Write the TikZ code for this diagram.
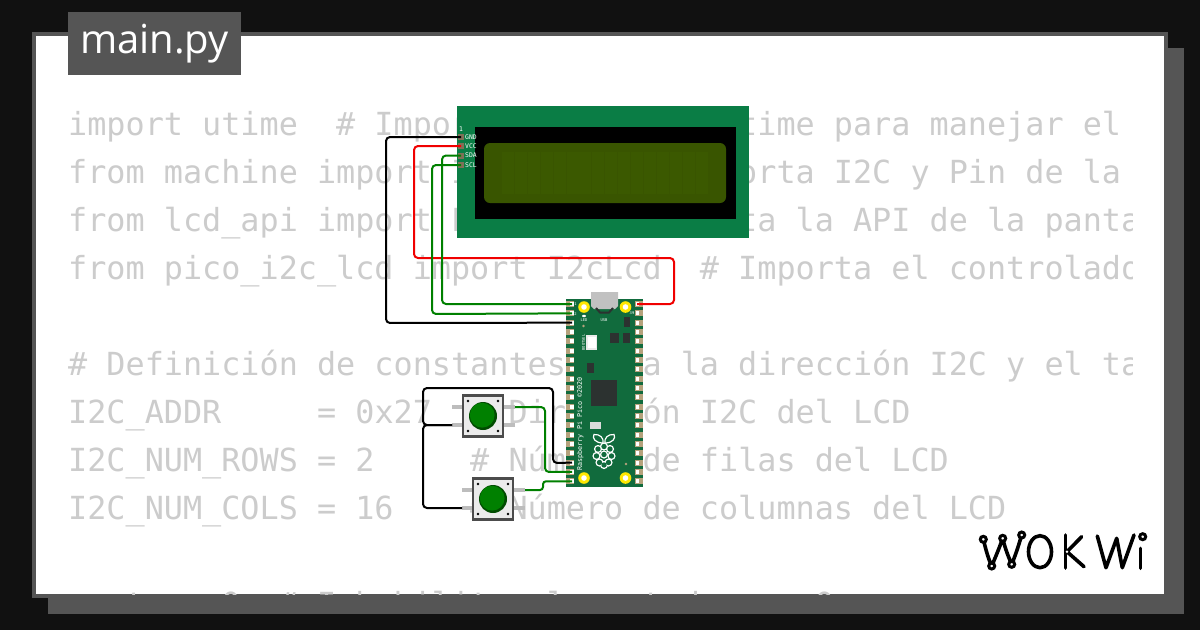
\documentclass[tikz,border=0pt]{standalone}
\usepackage{fontspec}
\usetikzlibrary{calc}
\setmonofont{DejaVu Sans Mono}
\newfontfamily\labelfont{Open Sans}
\definecolor{bgdark}{HTML}{111111}
\definecolor{framegray}{HTML}{555555}
\definecolor{codegray}{HTML}{CCCCCC}
\definecolor{lcdgreen}{HTML}{0A7D45}
\definecolor{lcdolive}{HTML}{395500}
\definecolor{cellolive}{HTML}{3B5900}
\definecolor{picogreen}{HTML}{116B3D}
\definecolor{padtan}{HTML}{B5A27C}
\definecolor{chipdark}{HTML}{2C3230}
\definecolor{wirered}{HTML}{F00000}
\definecolor{wiregreen}{HTML}{008000}

\begin{document}
\begin{tikzpicture}[x=1pt,y=-1pt,
	box/.style={inner sep=0pt,outer sep=0pt,minimum width=#1},
	codeline/.style={font=\ttfamily\fontsize{31.8}{32}\selectfont,text=codegray,anchor=base west,inner sep=0pt},
	tiny/.style={font=\ttfamily\fontsize{#1}{#1}\selectfont,text=white,inner sep=0pt},
	wire/.style={line width=2pt,rounded corners=4pt},
	logo/.style={line width=3.6pt,line cap=round,line join=round,draw=black,fill=none},
	hole/.style={line width=3pt,draw=black,fill=white}]
	
	\useasboundingbox (0,0) rectangle (1200,630);
	\fill[bgdark] (0,0) rectangle (1200,630);
	\fill[framegray] (48,48) rectangle (1184,614);
	\fill[framegray] (32,32) rectangle (1168,598);
	\fill[white] (36,36) rectangle (1164,594);
	
	\begin{scope}
	\clip (36,36) rectangle (1132,594);
	\foreach \yy/\txt in {
		135/{import~utime~~\#~Importa~el~módulo~utime~para~manejar~el},
		183/{from~machine~import~I2C,~Pin~~\#~Importa~I2C~y~Pin~de~la},
		231/{from~lcd\_api~import~LcdApi~~\#~Importa~la~API~de~la~panta},
		279/{from~pico\_i2c\_lcd~import~I2cLcd~~\#~Importa~el~controlado},
		375/{\#~Definición~de~constantes~para~la~dirección~I2C~y~el~ta},
		423/{I2C\_ADDR~~~~~=~0x27~~\#~Dirección~I2C~del~LCD},
		471/{I2C\_NUM\_ROWS~=~2~~~~~\#~Número~de~filas~del~LCD},
		519/{I2C\_NUM\_COLS~=~16~~~~\#~Número~de~columnas~del~LCD},
		615/{cont~~=~0~~\#~Inhabilita~el~contador~en~0}}
		\node[codeline] (code\yy) at (68,\yy) {\txt};
	\end{scope}
	
	\node[fill=framegray,text=white,font=\labelfont\fontsize{40}{40}\selectfont,inner sep=0pt,
		minimum width=173pt,minimum height=63pt] (title) at (154.5,43.5) {main.py};
	
	% display
	\node[box=292pt,minimum height=132pt,fill=lcdgreen] (lcd) at (603,172) {};
	\node[box=261pt,minimum height=92pt,fill=black] (lcdwin) at (605.5,173) {};
	\node[box=242pt,minimum height=60pt,fill=lcdolive,rounded corners=6pt] (lcdglass) at (605,173) {};
	\foreach \c in {0,...,15}
		\fill[cellolive] ({502+12.9*\c},152) rectangle ++(12,42);
	\node[tiny=6.4] (lcdone) at (461,129) {1};
	\foreach \pinname/\yy/\txt in {lcdgnd/137/GND,lcdvcc/146/VCC,lcdsda/155.5/SDA,lcdscl/165/SCL} {
		\fill[padtan!70!black] (457.5,\yy-3) rectangle (463.5,\yy+3);
		\coordinate (\pinname) at (461,\yy);
		\node[tiny=6.4,anchor=west] (\pinname label) at (465,\yy) {\txt};
	}
	
	% pico board
	\node[box=77pt,minimum height=188pt,fill=picogreen] (pico) at (604.5,393) {};
	\foreach \i in {1,...,20} {
		\coordinate (picol\i) at (572,{304+9.33*(\i-1)});
		\coordinate (picor\i) at (637,{304+9.33*(\i-1)});
		\fill[padtan] ($(picol\i)+(-6,-3)$) rectangle ($(picol\i)+(2,3)$);
		\fill[white] ($(picol\i)+(-2,-2)$) rectangle ($(picol\i)+(1.5,2)$);
		\fill[padtan] ($(picor\i)+(-2,-3)$) rectangle ($(picor\i)+(6,3)$);
		\fill[white] ($(picor\i)+(-1.5,-2)$) rectangle ($(picor\i)+(2,2)$);
	}
	\fill[codegray!85!gray] (591,292) -- (618,292) -- (618,306) -- (615,309) -- (594,309) -- (591,306) -- cycle;
	\draw[chipdark,line width=2pt] (596,308) -- (600,312.5) -- (609,312.5) -- (613,308);
	\foreach \cx/\cy in {584/307,625.5/307,584/478,625.5/478} {
		\fill[yellow!90!orange] (\cx,\cy) circle (5.8pt);
		\fill[white] (\cx,\cy) circle (2.8pt);
	}
	\foreach \xa/\ya/\xb/\yb in {610/333/619/343,622.5/333/630/343,624/317/630/327,587/363/594/373,591/380/617/406}
		\fill[chipdark] (\xa,\ya) rectangle (\xb,\yb);
	\fill[codegray!40] (586,335) rectangle (597,349.5);
	\fill[white] (587.5,337) rectangle (595.5,347.5);
	\fill[codegray!70] (590,422) rectangle (601,429);
	\fill[white] (584,316) ellipse (2pt and 1.2pt);
	\fill[padtan] (583.5,326) circle (1.3pt);
	\fill[padtan] (626,464) circle (1.3pt);
	\node[tiny=3.8] (ledlabel) at (584,320.5) {LED};
	\node[tiny=3.8] (usblabel) at (604,320.5) {USB};
	\node[tiny=3.8] (bootlabel) at (583.5,342.5) [rotate=90] {BOOTSEL};
	\node[tiny=3.8] (pinone) at (575.5,304) {1};
	\node[tiny=3.8] (pintwo) at (575.5,314) {2};
	\node[tiny=3.8] (pinlast) at (632,313) {39};
	\node[tiny=6.7,anchor=west] (picolabel) at (580.3,470.5) [rotate=90] {Raspberry Pi Pico ©2020};
	
	% raspberry
	\draw[white,line width=1.2pt,fill=picogreen] (603,443) .. controls (595,443) and (592,438) .. (594,434.5) .. controls (600,434) and (604,438) .. (603,443) -- cycle;
	\draw[white,line width=1.2pt,fill=picogreen] (605,443) .. controls (613,443) and (616,438) .. (614,434.5) .. controls (608,434) and (604,438) .. (605,443) -- cycle;
	\foreach \dx/\dy in {0/-8.5,-6/-6,6/-6,0/-0.5,-7.5/1,7.5/1,-4.5/7.5,4.5/7.5,0/10}
		\fill[white] ($(604,455)+(\dx,\dy)$) circle (4.1pt);
	\foreach \dx/\dy in {0/-8.5,-6/-6,6/-6,0/-0.5,-7.5/1,7.5/1,-4.5/7.5,4.5/7.5,0/10}
		\fill[picogreen] ($(604,455)+(\dx,\dy)$) circle (2.7pt);
	
	% pushbuttons
	\foreach \btn/\cx/\cy in {btna/483/416,btnb/493/499} {
		\coordinate (\btn1) at (\cx-31,\cy-9);
		\coordinate (\btn2) at (\cx-31,\cy+9);
		\coordinate (\btn3) at (\cx+32,\cy-9);
		\coordinate (\btn4) at (\cx+32,\cy+9);
		\foreach \p in {1,2}
			\draw[codegray!80!gray,line width=4pt] (\btn\p) -- ++(12,0);
		\foreach \p in {3,4}
			\draw[codegray!80!gray,line width=4pt] (\btn\p) -- ++(-12,0);
		\node[box=40pt,minimum height=41pt,fill=black!8,draw=black!70,line width=2.6pt] (\btn) at (\cx,\cy) {};
		\foreach \dx/\dy in {-15/-15,15/-15,-15/15,15/15}
			\fill[black] (\cx+\dx,\cy+\dy) circle (1.4pt);
		\fill[green!30!black] (\cx,\cy) circle (14pt);
		\fill[green!50!black] (\cx-0.8,\cy-0.8) circle (12.4pt);
	}
	
	% connections
	\draw[wire,black] (lcdgnd) -| (386,323) -- (picol3);
	\draw[wire,wirered] (lcdvcc) -| (414,258) -| (674,304) -- (picor1);
	\draw[wire,wiregreen] (lcdsda) -| (442,304) -- (picol1);
	\draw[wire,wiregreen] (lcdscl) -| (432,314) -- (picol2);
	\draw[wire,black] (btna2) -| (423,388) -| (553,463) -- (picol18);
	\draw[wire,black] (btna2) -| (423,508) -- (btnb2);
	\draw[wire,wiregreen] (btna3) -| (545,472) -- (picol19);
	\draw[wire,wiregreen,rounded corners=3pt] (btnb3) -- (543,490) |- (picol20);
	
	% wokwi mark
	\draw[logo] (983.3,539.3) .. controls (986,550) and (988,558) .. (991.7,566) .. controls (996,556) and (1000,546) .. (1002.7,538.3) .. controls (1005,548) and (1008,556) .. (1011.7,564.3) .. controls (1016,554) and (1019,544) .. (1021.7,535);
	\draw[logo] (1040,551.7) ellipse (11.5pt and 16pt);
	\draw[logo] (1065.3,535) -- (1065.3,568);
	\draw[logo] (1081.7,536.7) -- (1067,551.7) -- (1084,566.7);
	\draw[logo] (1097.3,536) -- (1106,567.7) -- (1116.7,538.3) -- (1122.3,567.7) -- (1134,535);
	\draw[logo] (1140.3,548.3) -- (1140.3,568.3);
	\foreach \cx/\cy in {983.3/539.3,991.7/566,1002.7/538.3,1011.7/564.3,1021.7/535,1142.7/536.7}
		\draw[hole] (\cx,\cy) circle (3pt);
	\fill[white] (1067,551.7) circle (1.4pt);
\end{tikzpicture}
\end{document}
